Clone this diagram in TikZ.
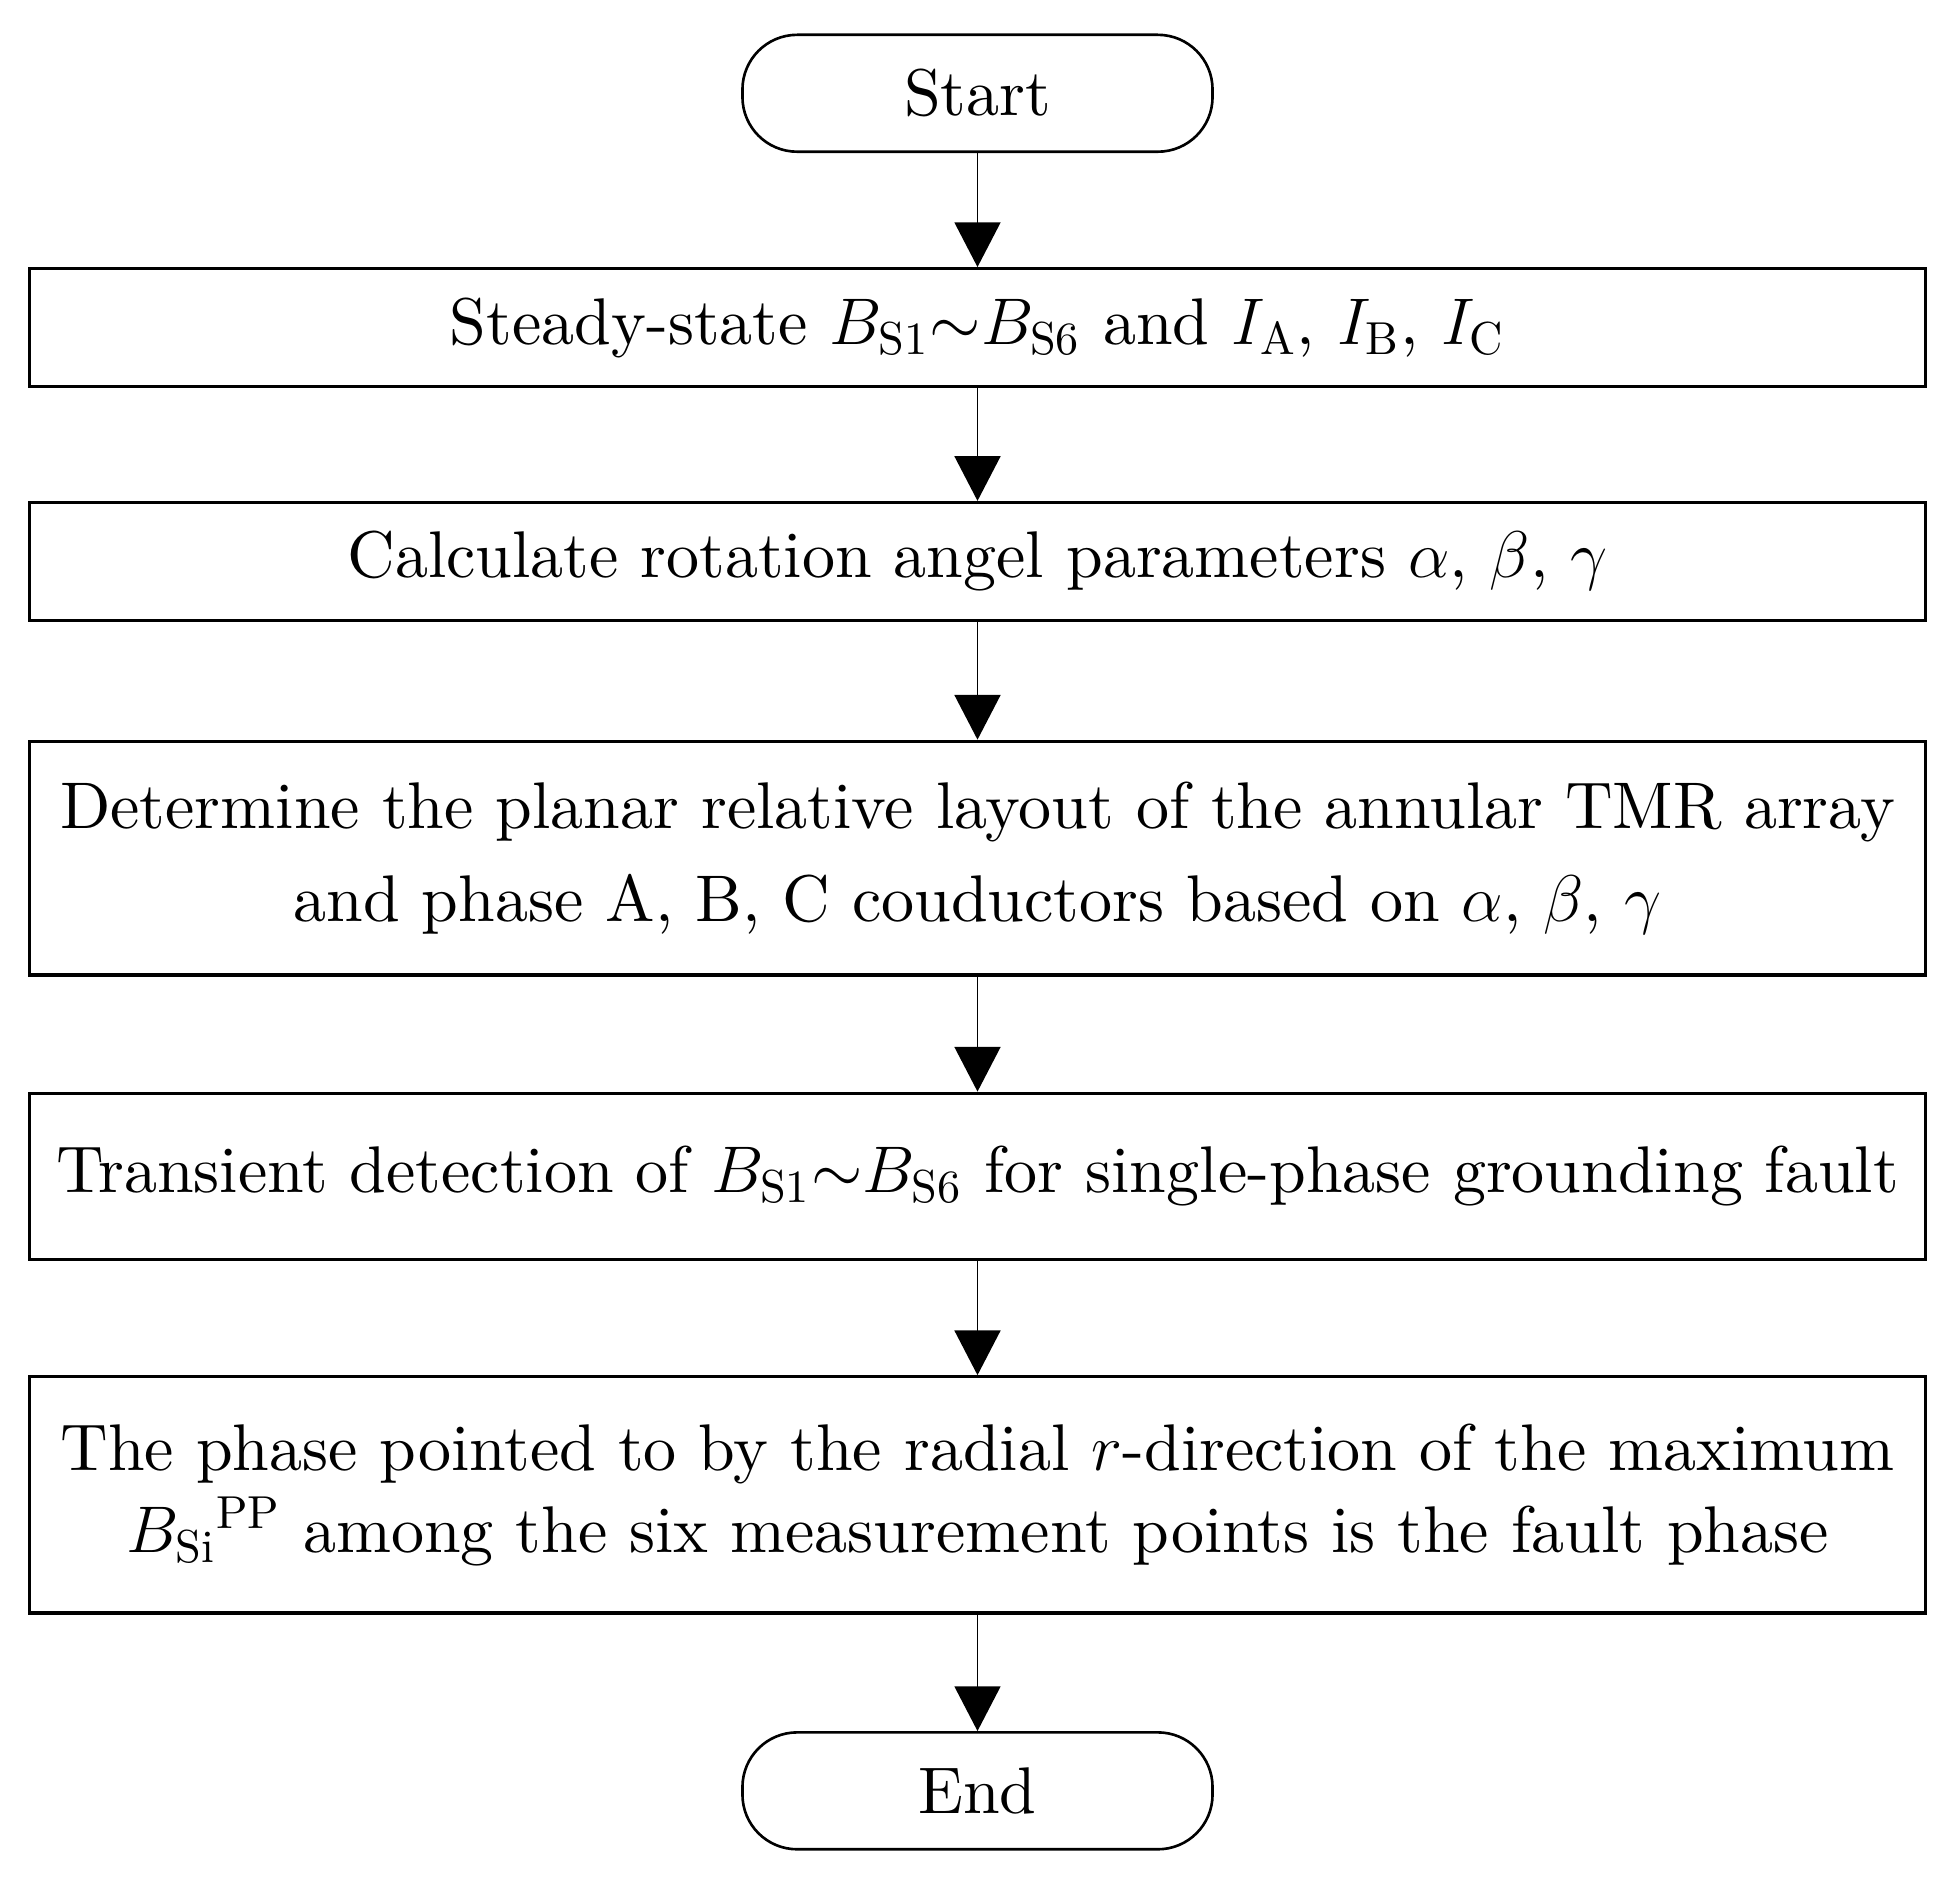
\RequirePackage{fix-cm}
\documentclass[tikz,border=0pt]{standalone}
\usepackage{amsmath}
\usepackage{fontspec}
\setmainfont{lmroman10-regular.otf}[BoldFont=lmroman10-bold.otf, ItalicFont=lmroman10-italic.otf]
\usepackage{tikz}
\usetikzlibrary{arrows.meta,positioning}
\tikzstyle{startstop} = [rectangle, rounded corners=0.44cm, minimum width=3.78cm, minimum height=0.94cm, text centered, draw=black, line width=0.6pt]
\tikzstyle{process} = [rectangle, minimum width=15.25cm, minimum height=0.95cm, text width=15.2cm, inner xsep=0.02cm, align=center, draw=black, line width=0.7pt]
\tikzstyle{arrow} = [line width=0.4pt,-{Triangle[width=0.37cm,length=0.36cm]}]
\newcommand{\BS}[1]{B_{\mathrm{S#1}}}

\begin{document}
\begin{tikzpicture}[node distance=1.88cm, font=\fontsize{15.1}{21.3}\selectfont]
    \useasboundingbox (0,0) rectangle (15.68,-15.093);

    \node (start) [startstop] at (7.86,-0.75) {Start};

    \node (steady) [process, below of=start, yshift=-0.005cm] {Steady-state $\BS{1}{\sim}\BS{6}$ and $I_{\mathrm{A}}$, $I_{\mathrm{B}}$, $I_{\mathrm{C}}$};

    \node (angles) [process, below of=steady] {Calculate rotation angel parameters $\alpha$, $\beta$, $\gamma$};

    \node (layout) [process, below of=angles, minimum height=1.88cm, yshift=-0.505cm] {Determine the planar relative layout of the annular TMR array\\ and phase A, B, C couductors based on $\alpha$, $\beta$, $\gamma$};

    \node (transient) [process, below of=layout, minimum height=1.34cm, yshift=-0.68cm] {Transient detection of $\BS{1}{\sim}\BS{6}$ for single-phase grounding fault};

    \node (fault) [process, below of=transient, minimum height=1.9cm, yshift=-0.68cm, font=\fontsize{15.1}{18.8}\selectfont] {The phase pointed to by the radial $r$-direction of the maximum\\ $B_{\mathrm{Si}}{}^{\mathrm{PP}}$ among the six measurement points is the fault phase};

    \node (finish) [startstop, below of=fault, yshift=-0.5cm] {End};

    \draw[arrow] (start) -- (steady);
    \draw[arrow] (steady) -- (angles);
    \draw[arrow] (angles) -- (layout);
    \draw[arrow] (layout) -- (transient);
    \draw[arrow] (transient) -- (fault);
    \draw[arrow] (fault) -- (finish);

\end{tikzpicture}
\end{document}
